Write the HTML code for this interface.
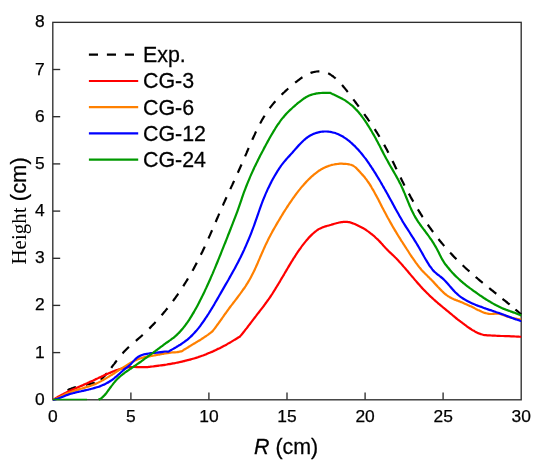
<!DOCTYPE html>
<html lang="en"><head><meta charset="utf-8"><title>Height vs R</title>
<style>html,body{margin:0;padding:0;background:#fff}svg{display:block}</style></head>
<body>
<svg width="550" height="467" viewBox="0 0 550 467">
<rect width="550" height="467" fill="#fff"/>
<g stroke="#2e2e2e" stroke-width="1.35" fill="none">
<rect x="52.80" y="22.35" width="468.40" height="377.45"/>
<path d="M130.9,399.8v-7.4"/>
<path d="M208.9,399.8v-7.4"/>
<path d="M287.0,399.8v-7.4"/>
<path d="M365.1,399.8v-7.4"/>
<path d="M443.1,399.8v-7.4"/>
<path d="M52.8,352.6h7.4"/>
<path d="M52.8,305.4h7.4"/>
<path d="M52.8,258.3h7.4"/>
<path d="M52.8,211.1h7.4"/>
<path d="M52.8,163.9h7.4"/>
<path d="M52.8,116.7h7.4"/>
<path d="M52.8,69.5h7.4"/>
</g>
<g fill="none" stroke-width="2.2" stroke-linejoin="round">
<path d="M52.9,399.8C53.2,399.5 54.2,398.7 54.9,398.2C55.5,397.7 56.2,397.2 56.9,396.8C57.5,396.3 58.2,395.8 58.9,395.4C59.5,394.9 60.2,394.5 60.9,394.0C61.5,393.6 62.2,393.2 62.9,392.8C63.5,392.4 64.2,392.0 64.8,391.7C65.5,391.3 66.2,390.9 66.8,390.6C67.5,390.3 68.2,389.9 68.8,389.6C69.5,389.3 70.2,389.0 70.8,388.8C71.5,388.5 72.2,388.2 72.8,388.0C73.5,387.7 74.2,387.5 74.8,387.3C75.5,387.1 76.2,386.9 76.8,386.7C77.5,386.5 78.2,386.3 78.8,386.1C79.5,386.0 80.2,385.8 80.8,385.7C81.5,385.5 82.2,385.4 82.8,385.2C83.5,385.1 84.2,385.0 84.8,384.8C85.5,384.7 86.2,384.6 86.8,384.4C87.5,384.3 88.2,384.2 88.8,384.0C89.5,383.9 90.2,383.8 90.8,383.6C91.5,383.5 92.2,383.3 92.8,383.2C93.5,383.0 94.2,382.9 94.8,382.7C95.5,382.5 96.2,382.3 96.8,382.1C97.5,381.9 97.9,382.0 98.5,381.6C99.1,381.2 99.8,380.6 100.5,380.0C101.2,379.4 101.8,378.8 102.5,378.1C103.2,377.5 103.8,376.8 104.5,376.0C105.2,375.3 105.8,374.5 106.5,373.7C107.2,373.0 107.8,372.1 108.5,371.3C109.2,370.5 109.8,369.6 110.5,368.8C111.2,367.9 111.8,367.1 112.5,366.2C113.2,365.3 113.8,364.4 114.5,363.6C115.2,362.7 115.8,361.8 116.5,360.9C117.2,360.1 117.8,359.2 118.5,358.4C119.2,357.5 119.8,356.7 120.5,355.9C121.2,355.1 121.8,354.3 122.5,353.5C123.2,352.8 123.8,352.1 124.5,351.3C125.2,350.6 125.8,350.0 126.5,349.3C127.2,348.6 127.8,348.0 128.5,347.3C129.2,346.7 129.8,346.1 130.5,345.5C131.2,344.9 131.8,344.3 132.5,343.7C133.2,343.1 133.8,342.6 134.5,342.0C135.2,341.4 135.8,340.9 136.5,340.3C137.2,339.7 137.8,339.2 138.5,338.6C139.2,338.0 139.8,337.4 140.5,336.9C141.2,336.3 141.8,335.7 142.5,335.1C143.2,334.5 143.8,333.9 144.5,333.3C145.2,332.6 145.8,332.0 146.5,331.4C147.2,330.7 147.8,330.1 148.5,329.4C149.2,328.7 149.8,328.1 150.5,327.4C151.2,326.7 151.8,326.0 152.5,325.3C153.2,324.6 153.8,323.9 154.5,323.2C155.2,322.5 155.8,321.7 156.5,321.0C157.2,320.3 157.8,319.5 158.5,318.8C159.2,318.1 159.8,317.3 160.5,316.5C161.2,315.8 161.8,315.0 162.5,314.2C163.2,313.4 163.8,312.6 164.5,311.8C165.2,311.0 165.8,310.2 166.5,309.4C167.2,308.6 167.8,307.8 168.5,306.9C169.2,306.1 169.8,305.2 170.5,304.3C171.2,303.5 171.8,302.6 172.5,301.7C173.2,300.8 173.8,299.9 174.5,299.0C175.2,298.1 175.8,297.2 176.5,296.2C177.2,295.3 177.8,294.3 178.5,293.4C179.2,292.4 179.8,291.4 180.5,290.4C181.2,289.4 181.8,288.4 182.5,287.4C183.2,286.3 183.8,285.3 184.5,284.2C185.2,283.2 185.8,282.1 186.5,281.0C187.2,279.9 187.8,278.8 188.5,277.7C189.2,276.6 189.8,275.4 190.5,274.3C191.2,273.1 191.8,271.9 192.5,270.7C193.2,269.6 193.8,268.3 194.5,267.1C195.2,265.9 195.8,264.6 196.5,263.4C197.2,262.1 197.8,260.8 198.5,259.5C199.2,258.2 199.8,256.9 200.5,255.5C201.2,254.2 201.8,252.8 202.5,251.4C203.2,250.1 203.8,248.6 204.5,247.2C205.2,245.8 205.8,244.3 206.5,242.9C207.2,241.4 207.8,239.9 208.5,238.4C209.2,236.9 209.8,235.4 210.5,233.9C211.2,232.4 211.8,230.8 212.5,229.3C213.2,227.8 213.8,226.2 214.5,224.7C215.2,223.1 215.8,221.6 216.5,220.0C217.2,218.5 217.8,216.9 218.5,215.4C219.2,213.8 219.8,212.3 220.5,210.8C221.2,209.2 221.8,207.7 222.5,206.2C223.2,204.7 223.8,203.2 224.5,201.8C225.2,200.3 225.8,198.8 226.5,197.3C227.2,195.9 227.8,194.4 228.5,193.0C229.2,191.5 229.8,190.1 230.5,188.7C231.2,187.2 231.8,185.8 232.5,184.4C233.2,182.9 233.8,181.5 234.5,180.0C235.2,178.6 235.8,177.1 236.5,175.7C237.2,174.2 237.8,172.8 238.5,171.3C239.2,169.8 239.8,168.3 240.5,166.8C241.2,165.4 241.8,163.8 242.5,162.3C243.2,160.8 243.8,159.3 244.5,157.7C245.2,156.2 245.8,154.6 246.5,153.1C247.2,151.5 247.8,150.0 248.5,148.4C249.2,146.9 249.8,145.3 250.5,143.8C251.2,142.3 251.8,140.8 252.5,139.3C253.2,137.8 253.8,136.3 254.5,134.9C255.2,133.4 255.8,132.0 256.5,130.6C257.2,129.2 257.8,127.9 258.5,126.6C259.2,125.3 259.8,124.0 260.5,122.8C261.2,121.5 261.8,120.3 262.5,119.2C263.2,118.0 263.8,116.9 264.5,115.9C265.2,114.8 265.8,113.8 266.5,112.8C267.2,111.8 267.8,110.8 268.5,109.9C269.2,108.9 269.8,108.0 270.5,107.1C271.2,106.3 271.8,105.4 272.5,104.6C273.2,103.8 273.8,103.0 274.5,102.2C275.2,101.4 275.8,100.7 276.5,100.0C277.2,99.2 277.8,98.5 278.5,97.8C279.2,97.1 279.8,96.5 280.5,95.8C281.2,95.1 281.8,94.5 282.5,93.8C283.2,93.2 283.8,92.6 284.5,92.0C285.2,91.3 285.8,90.7 286.5,90.1C287.2,89.5 287.8,88.9 288.5,88.3C289.2,87.7 289.8,87.2 290.5,86.6C291.2,86.0 291.8,85.4 292.5,84.9C293.2,84.3 293.8,83.7 294.5,83.2C295.2,82.6 295.8,82.1 296.5,81.6C297.2,81.1 297.8,80.6 298.5,80.1C299.2,79.6 299.8,79.1 300.5,78.6C301.2,78.2 301.8,77.7 302.5,77.3C303.2,76.9 303.8,76.4 304.5,76.1C305.2,75.7 305.8,75.3 306.5,74.9C307.2,74.6 307.8,74.3 308.5,73.9C309.2,73.6 309.8,73.4 310.5,73.1C311.2,72.8 311.8,72.6 312.5,72.4C313.2,72.2 313.8,72.0 314.5,71.9C315.2,71.7 315.8,71.6 316.5,71.5C317.2,71.4 317.8,71.3 318.5,71.3C319.2,71.3 319.8,71.3 320.5,71.3C321.2,71.4 321.8,71.4 322.5,71.5C323.2,71.6 323.8,71.8 324.5,72.0C325.2,72.1 325.8,72.4 326.5,72.6C327.2,72.9 327.8,73.2 328.5,73.5C329.2,73.8 329.8,74.2 330.5,74.6C331.2,75.0 331.8,75.5 332.5,76.0C333.2,76.5 333.8,77.0 334.5,77.5C335.2,78.1 335.8,78.7 336.5,79.3C337.2,79.9 337.8,80.6 338.5,81.2C339.2,81.9 339.8,82.6 340.5,83.3C341.2,84.0 341.8,84.8 342.5,85.5C343.2,86.3 343.8,87.1 344.5,87.9C345.2,88.7 345.8,89.5 346.5,90.3C347.2,91.2 347.8,92.0 348.5,92.9C349.2,93.8 349.8,94.6 350.5,95.5C351.2,96.4 351.8,97.3 352.5,98.2C353.2,99.1 353.8,100.0 354.5,100.9C355.2,101.8 355.8,102.7 356.5,103.6C357.2,104.5 357.8,105.4 358.5,106.3C359.2,107.2 359.8,108.2 360.5,109.1C361.2,110.0 361.8,110.9 362.5,111.8C363.2,112.7 363.8,113.6 364.5,114.5C365.2,115.4 365.8,116.3 366.5,117.3C367.2,118.2 367.8,119.1 368.5,120.1C369.2,121.0 369.8,122.0 370.5,122.9C371.2,123.9 371.8,124.9 372.5,125.8C373.2,126.8 373.8,127.8 374.5,128.8C375.2,129.8 375.8,130.9 376.5,131.9C377.2,133.0 377.8,134.0 378.5,135.1C379.2,136.2 379.8,137.3 380.5,138.4C381.2,139.5 381.8,140.7 382.5,141.8C383.2,143.0 383.8,144.2 384.5,145.4C385.2,146.6 385.8,147.9 386.5,149.1C387.2,150.4 387.8,151.7 388.5,153.0C389.2,154.3 389.8,155.6 390.5,156.9C391.2,158.2 391.8,159.6 392.5,160.9C393.2,162.3 393.8,163.7 394.5,165.0C395.2,166.4 395.8,167.8 396.5,169.1C397.2,170.5 397.8,171.9 398.5,173.3C399.2,174.6 399.8,176.0 400.5,177.4C401.2,178.7 401.8,180.1 402.5,181.4C403.2,182.7 403.8,184.1 404.5,185.4C405.2,186.7 405.8,188.0 406.5,189.2C407.2,190.5 407.8,191.8 408.5,193.0C409.2,194.2 409.8,195.5 410.5,196.7C411.2,197.9 411.8,199.1 412.5,200.2C413.2,201.4 413.8,202.6 414.5,203.7C415.2,204.9 415.8,206.0 416.5,207.1C417.2,208.2 417.8,209.3 418.5,210.4C419.2,211.5 419.8,212.6 420.5,213.6C421.2,214.7 421.8,215.7 422.5,216.8C423.2,217.8 423.8,218.8 424.5,219.8C425.2,220.8 425.8,221.8 426.5,222.8C427.2,223.8 427.8,224.7 428.5,225.7C429.2,226.6 429.8,227.6 430.5,228.5C431.2,229.4 431.8,230.3 432.5,231.2C433.2,232.1 433.8,233.0 434.5,233.9C435.2,234.8 435.8,235.6 436.5,236.5C437.2,237.4 437.8,238.2 438.5,239.0C439.2,239.9 439.8,240.7 440.5,241.5C441.2,242.3 441.8,243.1 442.5,243.9C443.2,244.7 443.8,245.5 444.5,246.3C445.2,247.1 445.8,247.8 446.5,248.6C447.2,249.3 447.8,250.1 448.5,250.8C449.2,251.6 449.8,252.3 450.5,253.0C451.2,253.7 451.8,254.4 452.5,255.1C453.2,255.8 453.8,256.5 454.5,257.2C455.2,257.9 455.8,258.6 456.5,259.3C457.2,259.9 457.8,260.6 458.5,261.3C459.2,261.9 459.8,262.6 460.5,263.2C461.2,263.9 461.8,264.5 462.5,265.1C463.2,265.8 463.8,266.4 464.5,267.0C465.2,267.6 465.8,268.3 466.5,268.9C467.2,269.5 467.8,270.1 468.5,270.7C469.2,271.3 469.8,271.9 470.5,272.5C471.2,273.1 471.8,273.6 472.5,274.2C473.2,274.8 473.8,275.4 474.5,276.0C475.2,276.5 475.8,277.1 476.5,277.7C477.2,278.2 477.8,278.8 478.5,279.3C479.2,279.9 479.8,280.5 480.5,281.0C481.2,281.6 481.8,282.1 482.5,282.7C483.2,283.2 483.8,283.8 484.5,284.3C485.2,284.8 485.8,285.4 486.5,285.9C487.2,286.5 487.8,287.0 488.5,287.5C489.2,288.1 489.8,288.6 490.5,289.1C491.2,289.7 491.8,290.2 492.5,290.7C493.2,291.3 493.8,291.8 494.5,292.3C495.2,292.9 495.8,293.4 496.5,293.9C497.2,294.5 497.8,295.0 498.5,295.5C499.2,296.1 499.8,296.6 500.5,297.1C501.2,297.7 501.8,298.2 502.5,298.8C503.2,299.3 503.8,299.8 504.5,300.4C505.2,300.9 505.8,301.5 506.5,302.0C507.2,302.5 507.8,303.1 508.5,303.6C509.2,304.2 509.8,304.7 510.5,305.3C511.2,305.9 511.8,306.4 512.5,307.0C513.2,307.5 513.8,308.1 514.5,308.7C515.2,309.2 515.8,309.8 516.5,310.4C517.2,310.9 517.8,311.5 518.5,312.1C519.2,312.7 520.0,313.5 520.5,313.9C521.0,314.3 521.1,314.4 521.2,314.5" stroke="#000" stroke-dasharray="0.0 17.5 9.1 10.2 9.1 6.8 9.1 6.8 9.1 9.2 9.1 9.2 9.1 9.1 9.1 9.1 9.1 9.0 9.1 9.0 9.1 8.9 9.1 8.9 9.1 8.9 9.1 8.9 9.1 8.9 9.1 8.9 9.1 8.9 9.1 8.9 9.1 8.9 9.1 8.9 9.1 9.0 9.1 9.0 9.1 9.0 9.1 9.1 9.1 9.1 9.1 9.1 9.1 9.2 9.1 9.2 9.1 9.2 9.1 9.2 9.1 9.2 9.1 9.2 9.1 9.1 9.1 9.1 9.1 9.0 9.1 8.9 9.1 8.8 9.1 8.7 9.1 8.5 9.1 8.3 9.1 8.0 9.1 7.7 9.1 7.4 9.1 20.0"/>
<path d="M52.9,399.9C53.2,399.7 54.2,399.0 54.9,398.6C55.5,398.2 56.2,397.8 56.9,397.4C57.5,397.0 58.2,396.7 58.9,396.3C59.5,395.9 60.2,395.6 60.9,395.2C61.5,394.9 62.2,394.5 62.9,394.2C63.5,393.9 64.2,393.5 64.8,393.2C65.5,392.9 66.2,392.6 66.8,392.2C67.5,391.9 68.2,391.6 68.8,391.3C69.5,391.0 70.2,390.7 70.8,390.4C71.5,390.1 72.2,389.8 72.8,389.5C73.5,389.2 74.2,388.9 74.8,388.7C75.5,388.4 76.2,388.1 76.8,387.8C77.5,387.5 78.2,387.2 78.8,386.9C79.5,386.7 80.2,386.4 80.8,386.1C81.5,385.8 82.2,385.5 82.8,385.2C83.5,384.9 84.2,384.6 84.8,384.3C85.5,384.0 86.2,383.7 86.8,383.4C87.5,383.1 88.2,382.8 88.8,382.5C89.5,382.2 90.2,381.9 90.8,381.6C91.5,381.3 92.2,381.0 92.8,380.7C93.5,380.3 94.2,380.0 94.8,379.7C95.5,379.4 96.2,379.1 96.8,378.8C97.5,378.5 98.2,378.1 98.8,377.8C99.5,377.5 100.2,377.2 100.8,376.9C101.5,376.6 102.2,376.3 102.8,376.0C103.5,375.6 104.2,375.3 104.8,375.0C105.5,374.7 106.2,374.4 106.8,374.1C107.5,373.9 108.2,373.6 108.8,373.3C109.5,373.0 110.2,372.7 110.8,372.4C111.5,372.2 112.2,371.9 112.8,371.6C113.5,371.4 114.2,371.1 114.8,370.8C115.5,370.6 116.2,370.3 116.8,370.1C117.5,369.9 118.2,369.7 118.8,369.4C119.5,369.2 120.2,369.0 120.8,368.8C121.5,368.6 122.2,368.5 122.8,368.3C123.5,368.1 124.2,368.0 124.8,367.8C125.5,367.7 126.2,367.6 126.8,367.5C127.5,367.4 128.2,367.3 128.8,367.2C129.5,367.2 130.2,367.1 130.8,367.1C131.5,367.1 132.2,367.0 132.8,367.0C133.5,367.0 134.2,367.0 134.8,367.0C135.5,367.1 136.2,367.1 136.8,367.1C137.5,367.1 138.2,367.1 138.8,367.2C139.5,367.2 140.2,367.2 140.8,367.2C141.5,367.2 142.2,367.2 142.8,367.2C143.5,367.2 144.2,367.2 144.8,367.2C145.5,367.2 146.2,367.1 146.8,367.1C147.5,367.1 148.2,367.0 148.8,366.9C149.5,366.9 150.2,366.8 150.8,366.7C151.5,366.6 152.2,366.5 152.8,366.5C153.5,366.4 154.2,366.3 154.8,366.2C155.5,366.1 156.2,366.0 156.8,365.9C157.5,365.8 158.2,365.7 158.8,365.6C159.5,365.5 160.2,365.5 160.8,365.4C161.5,365.3 162.2,365.2 162.8,365.1C163.5,365.0 164.2,364.9 164.8,364.8C165.5,364.7 166.2,364.6 166.8,364.5C167.5,364.3 168.2,364.2 168.8,364.1C169.5,364.0 170.2,363.9 170.8,363.8C171.5,363.7 172.2,363.6 172.8,363.4C173.5,363.3 174.2,363.2 174.8,363.1C175.5,362.9 176.2,362.8 176.8,362.7C177.5,362.5 178.2,362.4 178.8,362.3C179.5,362.1 180.2,362.0 180.8,361.8C181.5,361.7 182.2,361.6 182.8,361.4C183.5,361.2 184.2,361.1 184.8,360.9C185.5,360.8 186.2,360.6 186.8,360.4C187.5,360.3 188.2,360.1 188.8,359.9C189.5,359.7 190.2,359.6 190.8,359.4C191.5,359.2 192.2,359.0 192.8,358.8C193.5,358.6 194.2,358.4 194.8,358.2C195.5,358.0 196.2,357.8 196.8,357.6C197.5,357.4 198.2,357.1 198.8,356.9C199.5,356.7 200.2,356.5 200.8,356.2C201.5,356.0 202.2,355.7 202.8,355.5C203.5,355.2 204.2,355.0 204.8,354.7C205.5,354.5 206.2,354.2 206.8,353.9C207.5,353.7 208.2,353.4 208.8,353.1C209.5,352.8 210.2,352.6 210.8,352.3C211.5,352.0 212.2,351.7 212.8,351.4C213.5,351.1 214.2,350.8 214.8,350.5C215.5,350.2 216.2,349.9 216.8,349.5C217.5,349.2 218.2,348.9 218.8,348.6C219.5,348.2 220.2,347.9 220.8,347.6C221.5,347.2 222.2,346.9 222.8,346.5C223.5,346.2 224.2,345.8 224.8,345.5C225.5,345.1 226.2,344.7 226.8,344.4C227.5,344.0 228.2,343.6 228.8,343.2C229.5,342.9 230.2,342.5 230.8,342.1C231.5,341.7 232.2,341.3 232.8,340.9C233.5,340.5 234.2,340.1 234.8,339.7C235.5,339.3 236.2,338.9 236.8,338.5C237.5,338.1 238.3,337.6 238.8,337.2C239.4,336.9 239.6,336.9 240.1,336.4C240.6,335.9 241.4,334.8 242.1,334.0C242.8,333.2 243.4,332.3 244.1,331.5C244.8,330.6 245.4,329.8 246.1,328.9C246.8,328.1 247.4,327.2 248.1,326.3C248.8,325.5 249.4,324.6 250.1,323.7C250.8,322.8 251.4,322.0 252.1,321.1C252.8,320.2 253.4,319.3 254.1,318.5C254.8,317.6 255.4,316.7 256.1,315.9C256.8,315.0 257.4,314.1 258.1,313.3C258.8,312.4 259.4,311.6 260.1,310.7C260.8,309.8 261.4,309.0 262.1,308.1C262.8,307.2 263.4,306.4 264.1,305.5C264.8,304.6 265.4,303.7 266.1,302.8C266.8,301.9 267.4,300.9 268.1,300.0C268.8,299.0 269.4,298.1 270.1,297.1C270.8,296.1 271.4,295.1 272.1,294.1C272.8,293.0 273.4,292.0 274.1,290.9C274.8,289.9 275.4,288.8 276.1,287.7C276.8,286.6 277.4,285.5 278.1,284.4C278.8,283.3 279.4,282.2 280.1,281.1C280.8,279.9 281.4,278.8 282.1,277.7C282.8,276.6 283.4,275.4 284.1,274.3C284.8,273.1 285.4,272.0 286.1,270.9C286.8,269.7 287.4,268.6 288.1,267.5C288.8,266.4 289.4,265.3 290.1,264.1C290.8,263.0 291.4,261.9 292.1,260.9C292.8,259.8 293.4,258.7 294.1,257.7C294.8,256.6 295.4,255.6 296.1,254.5C296.8,253.5 297.4,252.5 298.1,251.5C298.8,250.6 299.4,249.6 300.1,248.7C300.8,247.7 301.4,246.8 302.1,245.9C302.8,245.0 303.4,244.2 304.1,243.3C304.8,242.5 305.4,241.7 306.1,240.9C306.8,240.1 307.4,239.3 308.1,238.6C308.8,237.8 309.4,237.1 310.1,236.4C310.8,235.7 311.4,235.1 312.1,234.4C312.8,233.8 313.4,233.2 314.1,232.6C314.8,232.1 315.6,231.4 316.1,231.0C316.6,230.6 316.8,230.4 317.3,230.1C317.8,229.8 318.6,229.3 319.3,228.9C320.0,228.5 320.6,228.2 321.3,227.9C322.0,227.6 322.6,227.4 323.3,227.1C324.0,226.9 324.6,226.6 325.3,226.4C326.0,226.2 326.6,226.0 327.3,225.8C328.0,225.6 328.6,225.4 329.3,225.3C330.0,225.1 330.6,224.9 331.3,224.7C332.0,224.5 332.6,224.3 333.3,224.1C334.0,223.9 334.6,223.7 335.3,223.5C336.0,223.3 336.6,223.2 337.3,223.0C338.0,222.8 338.6,222.7 339.3,222.5C340.0,222.4 340.6,222.3 341.3,222.2C342.0,222.1 342.6,222.0 343.3,221.9C344.0,221.9 344.6,221.8 345.3,221.8C346.0,221.8 346.6,221.8 347.3,221.9C348.0,222.0 348.6,222.1 349.3,222.2C350.0,222.3 350.6,222.5 351.3,222.7C352.0,223.0 352.6,223.2 353.3,223.5C354.0,223.7 354.6,224.0 355.3,224.3C356.0,224.6 356.6,224.9 357.3,225.2C358.0,225.6 358.6,225.9 359.3,226.2C360.0,226.5 360.6,226.9 361.3,227.2C362.0,227.6 362.6,227.9 363.3,228.3C364.0,228.7 364.6,229.1 365.3,229.5C366.0,230.0 366.6,230.4 367.3,230.9C368.0,231.3 368.6,231.8 369.3,232.3C370.0,232.8 370.6,233.3 371.3,233.8C372.0,234.4 372.6,234.9 373.3,235.5C374.0,236.1 374.6,236.6 375.3,237.3C376.0,237.9 376.6,238.5 377.3,239.1C378.0,239.8 378.6,240.5 379.3,241.1C380.0,241.8 380.6,242.5 381.3,243.3C382.0,244.0 382.6,244.7 383.3,245.5C384.0,246.2 384.6,247.0 385.3,247.7C386.0,248.4 386.6,249.2 387.3,249.8C388.0,250.5 388.6,251.2 389.3,251.8C390.0,252.5 390.6,253.1 391.3,253.7C392.0,254.3 392.6,254.9 393.3,255.5C394.0,256.2 394.6,256.8 395.3,257.5C396.0,258.1 396.6,258.8 397.3,259.5C398.0,260.2 398.6,260.9 399.3,261.7C400.0,262.4 400.6,263.1 401.3,263.9C402.0,264.7 402.6,265.4 403.3,266.2C404.0,266.9 404.6,267.7 405.3,268.5C406.0,269.3 406.6,270.1 407.3,270.8C408.0,271.6 408.6,272.4 409.3,273.2C410.0,274.0 410.6,274.8 411.3,275.6C412.0,276.4 412.6,277.1 413.3,277.9C414.0,278.7 414.6,279.5 415.3,280.3C416.0,281.0 416.6,281.8 417.3,282.6C418.0,283.3 418.6,284.1 419.3,284.8C420.0,285.6 420.6,286.3 421.3,287.1C422.0,287.8 422.6,288.5 423.3,289.2C424.0,289.9 424.6,290.6 425.3,291.3C426.0,292.0 426.6,292.7 427.3,293.3C428.0,294.0 428.6,294.6 429.3,295.3C430.0,295.9 430.6,296.5 431.3,297.2C432.0,297.8 432.6,298.4 433.3,299.0C434.0,299.6 434.6,300.2 435.3,300.8C436.0,301.4 436.6,301.9 437.3,302.5C438.0,303.1 438.6,303.7 439.3,304.2C440.0,304.8 440.6,305.3 441.3,305.9C442.0,306.5 442.6,307.0 443.3,307.6C444.0,308.1 444.6,308.7 445.3,309.2C446.0,309.8 446.6,310.3 447.3,310.9C448.0,311.4 448.6,312.0 449.3,312.5C450.0,313.1 450.6,313.6 451.3,314.2C452.0,314.7 452.6,315.3 453.3,315.8C454.0,316.4 454.6,316.9 455.3,317.5C456.0,318.0 456.6,318.5 457.3,319.1C458.0,319.6 458.6,320.1 459.3,320.7C460.0,321.2 460.6,321.7 461.3,322.2C462.0,322.7 462.6,323.2 463.3,323.7C464.0,324.2 464.6,324.7 465.3,325.2C466.0,325.7 466.6,326.2 467.3,326.7C468.0,327.1 468.6,327.6 469.3,328.0C470.0,328.5 470.6,328.9 471.3,329.3C472.0,329.8 472.6,330.2 473.3,330.6C474.0,330.9 474.6,331.3 475.3,331.7C476.0,332.0 476.6,332.4 477.3,332.7C478.0,333.0 478.6,333.3 479.3,333.5C480.0,333.8 480.6,334.0 481.3,334.3C482.0,334.5 482.7,334.6 483.3,334.8C483.9,334.9 484.5,335.0 485.1,335.1C485.7,335.2 486.4,335.2 487.1,335.3C487.8,335.3 488.4,335.3 489.1,335.4C489.8,335.4 490.4,335.5 491.1,335.5C491.8,335.5 492.4,335.6 493.1,335.6C493.8,335.7 494.4,335.7 495.1,335.7C495.8,335.7 496.4,335.8 497.1,335.8C497.8,335.8 498.4,335.9 499.1,335.9C499.8,335.9 500.4,335.9 501.1,336.0C501.8,336.0 502.4,336.0 503.1,336.0C503.8,336.1 504.4,336.1 505.1,336.1C505.8,336.1 506.4,336.2 507.1,336.2C507.8,336.2 508.4,336.2 509.1,336.2C509.8,336.3 510.4,336.3 511.1,336.3C511.8,336.3 512.4,336.4 513.1,336.4C513.8,336.4 514.4,336.5 515.1,336.5C515.8,336.5 516.4,336.5 517.1,336.6C517.8,336.6 518.4,336.6 519.1,336.7C519.8,336.7 520.9,336.8 521.2,336.8" stroke="#ff0000"/>
<path d="M52.9,399.9C53.2,399.8 54.2,399.4 54.9,399.2C55.5,398.9 56.2,398.6 56.9,398.3C57.5,398.0 58.2,397.7 58.9,397.4C59.5,397.1 60.2,396.8 60.9,396.4C61.5,396.1 62.2,395.8 62.9,395.5C63.5,395.1 64.2,394.8 64.8,394.5C65.5,394.2 66.2,393.9 66.8,393.6C67.5,393.3 68.2,393.0 68.8,392.7C69.5,392.5 70.2,392.2 70.8,392.0C71.5,391.7 72.2,391.5 72.8,391.3C73.5,391.0 74.2,390.8 74.8,390.6C75.5,390.4 76.2,390.2 76.8,390.0C77.5,389.8 78.2,389.6 78.8,389.4C79.5,389.2 80.2,389.0 80.8,388.8C81.5,388.6 82.2,388.4 82.8,388.2C83.5,388.0 84.2,387.8 84.8,387.6C85.5,387.4 86.2,387.2 86.8,387.0C87.5,386.8 88.2,386.6 88.8,386.4C89.5,386.2 90.2,385.9 90.8,385.7C91.5,385.5 92.2,385.2 92.8,385.0C93.5,384.7 94.2,384.4 94.8,384.2C95.5,383.9 96.2,383.6 96.8,383.3C97.5,383.0 98.2,382.6 98.8,382.3C99.5,382.0 100.2,381.6 100.8,381.3C101.5,380.9 102.2,380.6 102.8,380.2C103.5,379.8 104.2,379.5 104.8,379.1C105.5,378.7 106.2,378.3 106.8,377.9C107.5,377.5 108.2,377.1 108.8,376.7C109.5,376.3 110.2,375.8 110.8,375.4C111.5,375.0 112.2,374.6 112.8,374.1C113.5,373.7 114.2,373.3 114.8,372.8C115.5,372.4 116.2,372.0 116.8,371.5C117.5,371.1 118.2,370.7 118.8,370.2C119.5,369.8 120.2,369.4 120.8,368.9C121.5,368.5 122.2,368.1 122.8,367.6C123.5,367.2 124.2,366.8 124.8,366.4C125.5,365.9 126.2,365.5 126.8,365.1C127.5,364.7 128.2,364.3 128.8,363.9C129.5,363.5 130.2,363.1 130.8,362.7C131.5,362.3 132.2,362.0 132.8,361.6C133.5,361.3 134.2,360.9 134.8,360.6C135.5,360.3 136.2,360.0 136.8,359.7C137.5,359.4 138.2,359.1 138.8,358.9C139.5,358.6 140.2,358.4 140.8,358.2C141.5,358.0 142.2,357.8 142.8,357.6C143.5,357.4 144.2,357.3 144.8,357.1C145.5,357.0 146.2,356.8 146.8,356.7C147.5,356.6 148.2,356.5 148.8,356.4C149.5,356.2 150.2,356.1 150.8,356.0C151.5,355.9 152.2,355.8 152.8,355.7C153.5,355.6 154.2,355.5 154.8,355.3C155.5,355.2 156.2,355.1 156.8,355.0C157.5,354.9 158.2,354.7 158.8,354.6C159.5,354.5 160.2,354.3 160.8,354.2C161.5,354.1 162.2,353.9 162.8,353.8C163.5,353.7 164.2,353.5 164.8,353.4C165.5,353.3 166.2,353.2 166.8,353.1C167.5,353.0 168.2,352.9 168.8,352.8C169.5,352.7 170.2,352.6 170.8,352.6C171.5,352.5 172.2,352.5 172.8,352.4C173.5,352.4 174.2,352.3 174.8,352.3C175.5,352.2 176.2,352.1 176.8,352.1C177.5,352.0 178.2,351.9 178.8,351.8C179.5,351.7 180.4,351.5 180.8,351.4C181.3,351.3 181.3,351.5 181.8,351.2C182.3,351.0 183.1,350.3 183.8,349.9C184.5,349.5 185.1,349.1 185.8,348.7C186.5,348.3 187.1,347.9 187.8,347.5C188.5,347.0 189.1,346.6 189.8,346.2C190.5,345.8 191.1,345.4 191.8,345.0C192.5,344.6 193.1,344.2 193.8,343.8C194.5,343.4 195.1,343.0 195.8,342.6C196.5,342.2 197.1,341.8 197.8,341.4C198.5,341.0 199.1,340.6 199.8,340.2C200.5,339.8 201.1,339.3 201.8,338.9C202.5,338.5 203.1,338.0 203.8,337.6C204.5,337.2 205.1,336.7 205.8,336.3C206.5,335.8 207.1,335.3 207.8,334.9C208.5,334.4 209.1,333.9 209.8,333.4C210.5,332.9 211.1,332.5 211.8,331.9C212.5,331.3 213.1,330.4 213.8,329.6C214.5,328.7 215.1,327.9 215.8,327.0C216.5,326.1 217.1,325.2 217.8,324.3C218.5,323.4 219.1,322.5 219.8,321.5C220.5,320.6 221.1,319.6 221.8,318.7C222.5,317.7 223.1,316.8 223.8,315.8C224.5,314.9 225.1,313.9 225.8,313.0C226.5,312.0 227.1,311.1 227.8,310.2C228.5,309.3 229.1,308.4 229.8,307.5C230.5,306.6 231.1,305.7 231.8,304.9C232.5,304.0 233.1,303.1 233.8,302.2C234.5,301.4 235.1,300.5 235.8,299.6C236.5,298.8 237.1,297.9 237.8,297.0C238.5,296.1 239.1,295.3 239.8,294.4C240.5,293.5 241.1,292.5 241.8,291.6C242.5,290.7 243.1,289.7 243.8,288.8C244.5,287.8 245.1,286.8 245.8,285.8C246.5,284.7 247.1,283.7 247.8,282.6C248.5,281.5 249.1,280.4 249.8,279.2C250.5,278.0 251.1,276.8 251.8,275.5C252.5,274.3 253.1,272.9 253.8,271.6C254.5,270.2 255.1,268.7 255.8,267.3C256.5,265.8 257.1,264.3 257.8,262.8C258.5,261.2 259.1,259.7 259.8,258.1C260.5,256.6 261.1,255.0 261.8,253.5C262.5,252.0 263.1,250.4 263.8,248.9C264.5,247.5 265.1,246.0 265.8,244.6C266.5,243.2 267.1,241.8 267.8,240.4C268.5,239.0 269.1,237.7 269.8,236.4C270.5,235.1 271.1,233.9 271.8,232.7C272.5,231.4 273.1,230.3 273.8,229.1C274.5,227.9 275.1,226.7 275.8,225.6C276.5,224.4 277.1,223.3 277.8,222.1C278.5,221.0 279.1,219.9 279.8,218.8C280.5,217.7 281.1,216.6 281.8,215.5C282.5,214.4 283.1,213.3 283.8,212.2C284.5,211.2 285.1,210.1 285.8,209.1C286.5,208.0 287.1,207.0 287.8,206.0C288.5,205.0 289.1,204.0 289.8,203.0C290.5,202.0 291.1,201.1 291.8,200.1C292.5,199.1 293.1,198.2 293.8,197.3C294.5,196.3 295.1,195.4 295.8,194.5C296.5,193.6 297.1,192.8 297.8,191.9C298.5,191.0 299.1,190.2 299.8,189.4C300.5,188.5 301.1,187.7 301.8,186.9C302.5,186.1 303.1,185.4 303.8,184.6C304.5,183.9 305.1,183.1 305.8,182.4C306.5,181.7 307.1,181.0 307.8,180.3C308.5,179.6 309.1,178.9 309.8,178.3C310.5,177.7 311.1,177.0 311.8,176.4C312.5,175.8 313.1,175.3 313.8,174.7C314.5,174.1 315.1,173.6 315.8,173.1C316.5,172.6 317.1,172.1 317.8,171.6C318.5,171.1 319.1,170.7 319.8,170.3C320.5,169.8 321.1,169.4 321.8,169.1C322.5,168.7 323.1,168.3 323.8,168.0C324.5,167.7 325.1,167.3 325.8,167.0C326.5,166.7 327.1,166.5 327.8,166.2C328.5,166.0 329.1,165.7 329.8,165.5C330.5,165.3 331.1,165.1 331.8,164.9C332.5,164.8 333.1,164.6 333.8,164.5C334.5,164.3 335.1,164.2 335.8,164.1C336.5,164.0 337.1,163.9 337.8,163.9C338.5,163.8 339.1,163.8 339.8,163.7C340.5,163.7 341.1,163.7 341.8,163.7C342.5,163.7 343.1,163.7 343.8,163.8C344.5,163.8 345.1,163.8 345.8,163.9C346.5,164.0 347.1,164.0 347.8,164.1C348.5,164.2 349.1,164.3 349.8,164.5C350.5,164.6 351.1,164.8 351.8,165.1C352.5,165.3 353.1,165.6 353.8,166.1C354.5,166.5 355.1,167.0 355.8,167.6C356.5,168.2 357.1,168.9 357.8,169.6C358.5,170.3 359.1,171.1 359.8,171.8C360.5,172.6 361.1,173.3 361.8,174.1C362.5,174.8 363.1,175.5 363.8,176.3C364.5,177.1 365.1,177.9 365.8,178.8C366.5,179.6 367.1,180.5 367.8,181.5C368.5,182.4 369.1,183.4 369.8,184.5C370.5,185.5 371.1,186.6 371.8,187.8C372.5,188.9 373.1,190.0 373.8,191.2C374.5,192.4 375.1,193.6 375.8,194.9C376.5,196.1 377.1,197.4 377.8,198.6C378.5,199.9 379.1,201.2 379.8,202.5C380.5,203.8 381.1,205.1 381.8,206.4C382.5,207.7 383.1,209.0 383.8,210.2C384.5,211.5 385.1,212.8 385.8,214.0C386.5,215.3 387.1,216.5 387.8,217.8C388.5,219.0 389.1,220.2 389.8,221.4C390.5,222.6 391.1,223.7 391.8,224.9C392.5,226.1 393.1,227.2 393.8,228.3C394.5,229.5 395.1,230.6 395.8,231.7C396.5,232.8 397.1,233.9 397.8,235.0C398.5,236.1 399.1,237.1 399.8,238.2C400.5,239.3 401.1,240.3 401.8,241.4C402.5,242.4 403.1,243.5 403.8,244.5C404.5,245.6 405.1,246.6 405.8,247.6C406.5,248.7 407.1,249.7 407.8,250.7C408.5,251.7 409.1,252.8 409.8,253.8C410.5,254.8 411.1,255.8 411.8,256.8C412.5,257.8 413.1,258.8 413.8,259.7C414.5,260.7 415.1,261.6 415.8,262.6C416.5,263.5 417.1,264.4 417.8,265.3C418.5,266.1 419.1,267.0 419.8,267.8C420.5,268.6 421.1,269.4 421.8,270.2C422.5,270.9 423.1,271.6 423.8,272.3C424.5,273.0 425.1,273.7 425.8,274.3C426.5,275.0 427.1,275.6 427.8,276.3C428.5,276.9 429.1,277.6 429.8,278.3C430.5,278.9 431.1,279.6 431.8,280.3C432.5,281.0 433.1,281.7 433.8,282.4C434.5,283.1 435.1,283.9 435.8,284.6C436.5,285.3 437.1,286.0 437.8,286.8C438.5,287.5 439.1,288.2 439.8,288.9C440.5,289.6 441.1,290.2 441.8,290.9C442.5,291.5 443.1,292.2 443.8,292.8C444.5,293.4 445.1,294.0 445.8,294.5C446.5,295.0 447.1,295.5 447.8,296.0C448.5,296.4 449.1,296.8 449.8,297.2C450.5,297.6 451.1,297.9 451.8,298.3C452.5,298.6 453.1,298.9 453.8,299.2C454.5,299.5 455.1,299.7 455.8,300.0C456.5,300.3 457.1,300.5 457.8,300.8C458.5,301.0 459.1,301.3 459.8,301.5C460.5,301.8 461.1,302.1 461.8,302.3C462.5,302.6 463.1,302.9 463.8,303.2C464.5,303.5 465.1,303.8 465.8,304.1C466.5,304.3 467.1,304.6 467.8,305.0C468.5,305.3 469.1,305.6 469.8,305.9C470.5,306.2 471.1,306.5 471.8,306.8C472.5,307.2 473.1,307.5 473.8,307.8C474.5,308.2 475.1,308.5 475.8,308.9C476.5,309.2 477.1,309.5 477.8,309.9C478.5,310.2 479.1,310.5 479.8,310.8C480.5,311.2 481.1,311.5 481.8,311.8C482.5,312.0 483.1,312.3 483.8,312.6C484.5,312.8 485.1,313.0 485.8,313.2C486.5,313.4 487.1,313.6 487.8,313.7C488.5,313.8 489.1,313.9 489.8,314.0C490.5,314.0 491.1,314.0 491.8,314.0C492.5,314.0 493.1,313.8 493.8,313.8C494.5,313.7 495.1,313.6 495.8,313.5C496.5,313.5 497.1,313.5 497.8,313.6C498.5,313.7 499.1,313.8 499.8,313.9C500.5,314.1 501.1,314.3 501.8,314.5C502.5,314.7 503.1,315.0 503.8,315.2C504.5,315.4 505.1,315.7 505.8,315.9C506.5,316.2 507.1,316.4 507.8,316.6C508.5,316.8 509.1,317.0 509.8,317.2C510.5,317.4 511.1,317.6 511.8,317.8C512.5,317.9 513.1,318.1 513.8,318.2C514.5,318.4 515.1,318.5 515.8,318.6C516.5,318.8 517.1,318.9 517.8,319.0C518.5,319.1 519.2,319.3 519.8,319.4C520.4,319.5 521.0,319.6 521.2,319.6" stroke="#ff8000"/>
<path d="M52.9,399.9C53.2,399.8 54.2,399.6 54.9,399.5C55.5,399.3 56.2,399.1 56.9,398.9C57.5,398.7 58.2,398.5 58.9,398.2C59.5,398.0 60.2,397.8 60.9,397.5C61.5,397.2 62.2,397.0 62.9,396.7C63.5,396.4 64.2,396.2 64.8,395.9C65.5,395.7 66.2,395.4 66.8,395.1C67.5,394.9 68.2,394.7 68.8,394.4C69.5,394.2 70.2,394.0 70.8,393.8C71.5,393.6 72.2,393.4 72.8,393.2C73.5,393.0 74.2,392.9 74.8,392.7C75.5,392.5 76.2,392.3 76.8,392.2C77.5,392.0 78.2,391.9 78.8,391.7C79.5,391.6 80.2,391.4 80.8,391.3C81.5,391.1 82.2,391.0 82.8,390.8C83.5,390.7 84.2,390.5 84.8,390.4C85.5,390.3 86.2,390.1 86.8,390.0C87.5,389.8 88.2,389.7 88.8,389.5C89.5,389.3 90.2,389.2 90.8,389.0C91.5,388.9 92.2,388.7 92.8,388.5C93.5,388.3 94.2,388.1 94.8,387.9C95.5,387.7 96.2,387.5 96.8,387.3C97.5,387.1 98.2,386.9 98.8,386.7C99.5,386.4 100.2,386.2 100.8,385.9C101.5,385.7 102.2,385.4 102.8,385.1C103.5,384.8 104.2,384.5 104.8,384.2C105.5,383.8 106.2,383.5 106.8,383.1C107.5,382.8 108.2,382.4 108.8,382.0C109.5,381.6 110.2,381.2 110.8,380.7C111.5,380.3 112.2,379.8 112.8,379.3C113.5,378.8 114.2,378.3 114.8,377.7C115.5,377.2 116.2,376.6 116.8,376.1C117.5,375.5 118.2,374.9 118.8,374.3C119.5,373.7 120.2,373.1 120.8,372.5C121.5,371.9 122.2,371.3 122.8,370.7C123.5,370.2 124.2,369.6 124.8,369.0C125.5,368.5 126.2,368.0 126.8,367.5C127.5,367.0 128.2,366.5 128.8,365.9C129.5,365.4 130.2,364.8 130.8,364.1C131.5,363.4 132.2,362.6 132.8,361.9C133.5,361.1 134.2,360.3 134.8,359.7C135.5,359.0 136.2,358.4 136.8,357.9C137.5,357.3 138.2,356.9 138.8,356.5C139.5,356.1 140.2,355.8 140.8,355.5C141.5,355.2 142.2,354.9 142.8,354.7C143.5,354.5 144.2,354.3 144.8,354.2C145.5,354.0 146.2,353.9 146.8,353.8C147.5,353.7 148.2,353.6 148.8,353.5C149.5,353.4 150.2,353.3 150.8,353.2C151.5,353.2 152.2,353.1 152.8,353.0C153.5,353.0 154.2,352.9 154.8,352.9C155.5,352.8 156.2,352.7 156.8,352.7C157.5,352.6 158.2,352.5 158.8,352.4C159.5,352.3 160.2,352.2 160.8,352.1C161.5,352.0 162.2,351.9 162.8,351.8C163.5,351.7 164.2,351.6 164.8,351.5C165.5,351.5 166.3,351.5 166.8,351.5C167.4,351.6 167.7,351.9 168.3,351.7C168.9,351.5 169.6,350.9 170.3,350.6C171.0,350.2 171.6,349.8 172.3,349.4C173.0,349.0 173.6,348.7 174.3,348.3C175.0,347.9 175.6,347.5 176.3,347.1C177.0,346.7 177.6,346.3 178.3,345.9C179.0,345.5 179.6,345.1 180.3,344.7C181.0,344.2 181.6,343.8 182.3,343.3C183.0,342.9 183.6,342.4 184.3,341.9C185.0,341.5 185.6,341.0 186.3,340.4C187.0,339.9 187.6,339.4 188.3,338.8C189.0,338.2 189.6,337.7 190.3,337.0C191.0,336.4 191.6,335.8 192.3,335.1C193.0,334.5 193.6,333.8 194.3,333.0C195.0,332.3 195.6,331.6 196.3,330.8C197.0,330.0 197.6,329.2 198.3,328.4C199.0,327.5 199.6,326.7 200.3,325.8C201.0,324.9 201.6,324.0 202.3,323.0C203.0,322.1 203.6,321.1 204.3,320.2C205.0,319.2 205.6,318.2 206.3,317.2C207.0,316.2 207.6,315.1 208.3,314.1C209.0,313.0 209.6,312.0 210.3,310.9C211.0,309.8 211.6,308.7 212.3,307.6C213.0,306.5 213.6,305.4 214.3,304.3C215.0,303.1 215.6,302.0 216.3,300.8C217.0,299.7 217.6,298.5 218.3,297.4C219.0,296.2 219.6,295.0 220.3,293.9C221.0,292.7 221.6,291.6 222.3,290.4C223.0,289.2 223.6,288.1 224.3,286.9C225.0,285.7 225.6,284.6 226.3,283.4C227.0,282.3 227.6,281.1 228.3,280.0C229.0,278.8 229.6,277.6 230.3,276.4C231.0,275.3 231.6,274.1 232.3,272.9C233.0,271.7 233.6,270.5 234.3,269.3C235.0,268.0 235.6,266.8 236.3,265.5C237.0,264.3 237.6,263.0 238.3,261.7C239.0,260.4 239.6,259.1 240.3,257.8C241.0,256.4 241.6,255.1 242.3,253.7C243.0,252.3 243.6,250.8 244.3,249.4C245.0,247.9 245.6,246.4 246.3,244.9C247.0,243.4 247.6,241.8 248.3,240.2C249.0,238.7 249.6,237.0 250.3,235.3C251.0,233.7 251.6,232.0 252.3,230.2C253.0,228.4 253.6,226.6 254.3,224.8C255.0,222.9 255.6,221.1 256.3,219.1C257.0,217.2 257.6,215.3 258.3,213.3C259.0,211.4 259.6,209.4 260.3,207.6C261.0,205.7 261.6,203.9 262.3,202.1C263.0,200.4 263.6,198.7 264.3,197.1C265.0,195.5 265.6,193.9 266.3,192.4C267.0,190.9 267.6,189.5 268.3,188.1C269.0,186.7 269.6,185.3 270.3,184.0C271.0,182.7 271.6,181.4 272.3,180.1C273.0,178.9 273.6,177.7 274.3,176.5C275.0,175.3 275.6,174.2 276.3,173.1C277.0,172.0 277.6,170.9 278.3,169.9C279.0,168.8 279.6,167.8 280.3,166.9C281.0,165.9 281.6,165.0 282.3,164.1C283.0,163.3 283.6,162.4 284.3,161.6C285.0,160.8 285.6,160.1 286.3,159.3C287.0,158.5 287.6,157.8 288.3,157.0C289.0,156.3 289.6,155.6 290.3,154.9C291.0,154.1 291.6,153.4 292.3,152.7C293.0,151.9 293.6,151.2 294.3,150.4C295.0,149.6 295.6,148.9 296.3,148.1C297.0,147.4 297.6,146.6 298.3,145.9C299.0,145.2 299.6,144.4 300.3,143.7C301.0,143.0 301.6,142.4 302.3,141.7C303.0,141.1 303.6,140.4 304.3,139.9C305.0,139.3 305.6,138.7 306.3,138.2C307.0,137.7 307.6,137.2 308.3,136.8C309.0,136.3 309.6,135.9 310.3,135.5C311.0,135.2 311.6,134.8 312.3,134.5C313.0,134.2 313.6,133.9 314.3,133.6C315.0,133.4 315.6,133.1 316.3,132.9C317.0,132.7 317.6,132.5 318.3,132.3C319.0,132.2 319.6,132.0 320.3,131.9C321.0,131.8 321.6,131.7 322.3,131.6C323.0,131.6 323.6,131.5 324.3,131.5C325.0,131.5 325.6,131.5 326.3,131.5C327.0,131.5 327.6,131.5 328.3,131.6C329.0,131.7 329.6,131.8 330.3,131.9C331.0,132.0 331.6,132.1 332.3,132.3C333.0,132.4 333.6,132.6 334.3,132.8C335.0,133.0 335.6,133.2 336.3,133.5C337.0,133.7 337.6,134.0 338.3,134.3C339.0,134.6 339.6,134.9 340.3,135.3C341.0,135.6 341.6,136.0 342.3,136.3C343.0,136.7 343.6,137.1 344.3,137.6C345.0,138.0 345.6,138.4 346.3,138.9C347.0,139.4 347.6,139.9 348.3,140.4C349.0,140.9 349.6,141.5 350.3,142.0C351.0,142.6 351.6,143.2 352.3,143.8C353.0,144.4 353.6,145.0 354.3,145.7C355.0,146.3 355.6,147.0 356.3,147.7C357.0,148.4 357.6,149.1 358.3,149.8C359.0,150.6 359.6,151.3 360.3,152.1C361.0,152.9 361.6,153.7 362.3,154.5C363.0,155.4 363.6,156.2 364.3,157.1C365.0,157.9 365.6,158.8 366.3,159.7C367.0,160.7 367.6,161.6 368.3,162.5C369.0,163.5 369.6,164.5 370.3,165.5C371.0,166.4 371.6,167.5 372.3,168.5C373.0,169.5 373.6,170.5 374.3,171.6C375.0,172.7 375.6,173.7 376.3,174.8C377.0,175.9 377.6,177.0 378.3,178.1C379.0,179.2 379.6,180.4 380.3,181.5C381.0,182.6 381.6,183.8 382.3,185.0C383.0,186.1 383.6,187.3 384.3,188.5C385.0,189.6 385.6,190.8 386.3,192.0C387.0,193.2 387.6,194.4 388.3,195.6C389.0,196.8 389.6,198.1 390.3,199.3C391.0,200.5 391.6,201.7 392.3,202.9C393.0,204.1 393.6,205.4 394.3,206.6C395.0,207.8 395.6,209.0 396.3,210.2C397.0,211.4 397.6,212.6 398.3,213.8C399.0,215.0 399.6,216.2 400.3,217.3C401.0,218.5 401.6,219.6 402.3,220.8C403.0,221.9 403.6,223.0 404.3,224.1C405.0,225.2 405.6,226.3 406.3,227.3C407.0,228.4 407.6,229.4 408.3,230.4C409.0,231.5 409.6,232.5 410.3,233.5C411.0,234.6 411.6,235.6 412.3,236.7C413.0,237.7 413.6,238.7 414.3,239.8C415.0,240.9 415.6,241.9 416.3,243.0C417.0,244.1 417.6,245.2 418.3,246.4C419.0,247.5 419.6,248.7 420.3,249.9C421.0,251.0 421.6,252.2 422.3,253.4C423.0,254.6 423.6,255.8 424.3,257.0C425.0,258.1 425.6,259.3 426.3,260.4C427.0,261.6 427.6,262.7 428.3,263.7C429.0,264.8 429.6,265.8 430.3,266.7C431.0,267.7 431.6,268.5 432.3,269.4C433.0,270.2 433.6,270.9 434.3,271.6C435.0,272.2 435.6,272.8 436.3,273.4C437.0,274.0 437.6,274.5 438.3,275.0C439.0,275.5 439.6,276.0 440.3,276.5C441.0,277.0 441.6,277.5 442.3,278.1C443.0,278.7 443.6,279.3 444.3,280.0C445.0,280.6 445.6,281.4 446.3,282.1C447.0,282.8 447.6,283.6 448.3,284.4C449.0,285.1 449.6,285.9 450.3,286.7C451.0,287.5 451.6,288.3 452.3,289.0C453.0,289.8 453.6,290.5 454.3,291.2C455.0,291.9 455.6,292.6 456.3,293.2C457.0,293.8 457.6,294.4 458.3,295.0C459.0,295.6 459.6,296.1 460.3,296.6C461.0,297.1 461.6,297.6 462.3,298.0C463.0,298.5 463.6,298.9 464.3,299.3C465.0,299.7 465.6,300.1 466.3,300.5C467.0,300.9 467.6,301.2 468.3,301.5C469.0,301.9 469.6,302.2 470.3,302.5C471.0,302.8 471.6,303.1 472.3,303.4C473.0,303.7 473.6,304.0 474.3,304.3C475.0,304.5 475.6,304.8 476.3,305.1C477.0,305.3 477.6,305.6 478.3,305.9C479.0,306.1 479.6,306.4 480.3,306.6C481.0,306.9 481.6,307.1 482.3,307.3C483.0,307.6 483.6,307.8 484.3,308.1C485.0,308.3 485.6,308.5 486.3,308.8C487.0,309.0 487.6,309.2 488.3,309.4C489.0,309.7 489.6,309.9 490.3,310.1C491.0,310.4 491.6,310.6 492.3,310.8C493.0,311.0 493.6,311.3 494.3,311.5C495.0,311.7 495.6,311.9 496.3,312.2C497.0,312.4 497.6,312.6 498.3,312.8C499.0,313.1 499.6,313.3 500.3,313.5C501.0,313.8 501.6,314.0 502.3,314.3C503.0,314.5 503.6,314.7 504.3,315.0C505.0,315.2 505.6,315.5 506.3,315.7C507.0,316.0 507.6,316.2 508.3,316.5C509.0,316.7 509.6,317.0 510.3,317.2C511.0,317.5 511.6,317.7 512.3,318.0C513.0,318.2 513.6,318.5 514.3,318.7C515.0,319.0 515.6,319.2 516.3,319.5C517.0,319.7 517.6,319.9 518.3,320.1C519.0,320.4 519.8,320.7 520.3,320.8C520.8,321.0 521.1,321.1 521.2,321.1" stroke="#0000ff"/>
<path d="M52.85,399.5H87" stroke="#009900" stroke-width="1.6"/>
<path d="M98.6,399.7C98.9,399.5 99.9,399.2 100.6,398.8C101.3,398.3 101.9,397.8 102.6,397.2C103.3,396.6 103.9,395.9 104.6,395.1C105.3,394.4 105.9,393.5 106.6,392.7C107.3,391.8 107.9,390.9 108.6,390.0C109.3,389.1 109.9,388.2 110.6,387.3C111.3,386.3 111.9,385.4 112.6,384.6C113.3,383.7 113.9,382.9 114.6,382.1C115.3,381.3 115.9,380.5 116.6,379.8C117.3,379.1 117.9,378.5 118.6,377.8C119.3,377.2 119.9,376.6 120.6,376.0C121.3,375.4 121.9,374.9 122.6,374.4C123.3,373.8 123.9,373.3 124.6,372.8C125.3,372.4 125.9,371.9 126.6,371.4C127.3,371.0 127.9,370.5 128.6,370.1C129.3,369.6 129.9,369.2 130.6,368.7C131.3,368.3 131.9,367.8 132.6,367.4C133.3,366.9 133.9,366.5 134.6,366.0C135.3,365.6 135.9,365.1 136.6,364.6C137.3,364.2 137.9,363.7 138.6,363.2C139.3,362.8 139.9,362.3 140.6,361.8C141.3,361.3 141.9,360.9 142.6,360.4C143.3,359.9 143.9,359.4 144.6,358.9C145.3,358.5 145.9,358.0 146.6,357.5C147.3,357.0 147.9,356.5 148.6,356.0C149.3,355.5 149.9,355.0 150.6,354.5C151.3,354.0 151.9,353.5 152.6,353.1C153.3,352.6 153.9,352.1 154.6,351.6C155.3,351.1 155.9,350.6 156.6,350.1C157.3,349.6 157.9,349.1 158.6,348.6C159.3,348.1 159.9,347.6 160.6,347.1C161.3,346.6 161.9,346.1 162.6,345.7C163.3,345.2 163.9,344.7 164.6,344.2C165.3,343.7 165.9,343.2 166.6,342.7C167.3,342.3 167.9,341.8 168.6,341.3C169.3,340.8 169.9,340.3 170.6,339.9C171.3,339.4 171.9,338.9 172.6,338.4C173.3,337.9 173.9,337.4 174.6,336.8C175.3,336.3 175.9,335.7 176.6,335.1C177.3,334.5 177.9,333.8 178.6,333.2C179.3,332.5 179.9,331.8 180.6,331.0C181.3,330.3 181.9,329.5 182.6,328.7C183.3,327.9 183.9,327.1 184.6,326.2C185.3,325.3 185.9,324.4 186.6,323.5C187.3,322.5 187.9,321.6 188.6,320.6C189.3,319.6 189.9,318.5 190.6,317.5C191.3,316.4 191.9,315.3 192.6,314.2C193.3,313.1 193.9,312.0 194.6,310.8C195.3,309.6 195.9,308.4 196.6,307.2C197.3,306.0 197.9,304.8 198.6,303.5C199.3,302.2 199.9,300.9 200.6,299.6C201.3,298.3 201.9,296.9 202.6,295.6C203.3,294.2 203.9,292.8 204.6,291.4C205.3,290.0 205.9,288.6 206.6,287.1C207.3,285.7 207.9,284.2 208.6,282.7C209.3,281.2 209.9,279.7 210.6,278.2C211.3,276.7 211.9,275.1 212.6,273.6C213.3,272.0 213.9,270.4 214.6,268.9C215.3,267.3 215.9,265.7 216.6,264.0C217.3,262.4 217.9,260.8 218.6,259.1C219.3,257.5 219.9,255.8 220.6,254.2C221.3,252.5 221.9,250.9 222.6,249.2C223.3,247.5 223.9,245.8 224.6,244.1C225.3,242.5 225.9,240.8 226.6,239.1C227.3,237.4 227.9,235.7 228.6,234.0C229.3,232.3 229.9,230.7 230.6,229.0C231.3,227.3 231.9,225.6 232.6,223.9C233.3,222.2 233.9,220.5 234.6,218.7C235.3,217.0 235.9,215.2 236.6,213.4C237.3,211.6 237.9,209.8 238.6,207.9C239.3,206.1 239.9,204.3 240.6,202.2C241.3,200.2 242.1,197.6 242.8,195.6C243.5,193.6 244.1,191.9 244.8,190.2C245.5,188.4 246.1,186.7 246.8,185.0C247.5,183.3 248.1,181.7 248.8,180.1C249.5,178.5 250.1,176.9 250.8,175.4C251.5,173.9 252.1,172.4 252.8,170.9C253.5,169.5 254.1,168.0 254.8,166.6C255.5,165.2 256.1,163.8 256.8,162.5C257.5,161.1 258.1,159.8 258.8,158.4C259.5,157.1 260.1,155.8 260.8,154.5C261.5,153.2 262.1,151.9 262.8,150.7C263.5,149.4 264.1,148.1 264.8,146.9C265.5,145.6 266.1,144.4 266.8,143.2C267.5,142.0 268.1,140.7 268.8,139.6C269.5,138.4 270.1,137.2 270.8,136.0C271.5,134.8 272.1,133.7 272.8,132.6C273.5,131.4 274.1,130.3 274.8,129.3C275.5,128.2 276.1,127.1 276.8,126.1C277.5,125.1 278.1,124.1 278.8,123.2C279.5,122.2 280.1,121.3 280.8,120.4C281.5,119.5 282.1,118.7 282.8,117.9C283.5,117.1 284.1,116.3 284.8,115.5C285.5,114.8 286.1,114.1 286.8,113.3C287.5,112.6 288.1,112.0 288.8,111.3C289.5,110.6 290.1,110.0 290.8,109.4C291.5,108.8 292.1,108.1 292.8,107.5C293.5,106.9 294.1,106.4 294.8,105.8C295.5,105.2 296.1,104.6 296.8,104.0C297.5,103.5 298.1,102.9 298.8,102.4C299.5,101.8 300.1,101.3 300.8,100.8C301.5,100.3 302.1,99.8 302.8,99.3C303.5,98.8 304.1,98.4 304.8,98.0C305.5,97.5 306.1,97.1 306.8,96.8C307.5,96.4 308.1,96.1 308.8,95.8C309.5,95.5 310.1,95.2 310.8,94.9C311.5,94.7 312.1,94.5 312.8,94.3C313.5,94.1 314.1,93.9 314.8,93.8C315.5,93.7 316.1,93.5 316.8,93.4C317.5,93.3 318.1,93.3 318.8,93.2C319.5,93.1 320.1,93.1 320.8,93.0C321.5,93.0 322.1,93.0 322.8,92.9C323.5,92.9 324.1,92.9 324.8,92.9C325.5,92.9 326.1,92.9 326.8,92.9C327.5,92.9 328.2,92.9 328.8,92.9C329.4,92.9 329.6,92.7 330.2,92.9C330.8,93.1 331.5,93.5 332.2,93.9C332.9,94.2 333.5,94.5 334.2,94.8C334.9,95.1 335.5,95.4 336.2,95.7C336.9,96.1 337.5,96.4 338.2,96.7C338.9,97.0 339.5,97.4 340.2,97.7C340.9,98.1 341.5,98.4 342.2,98.8C342.9,99.2 343.5,99.5 344.2,99.9C344.9,100.3 345.5,100.7 346.2,101.2C346.9,101.6 347.5,102.1 348.2,102.6C348.9,103.0 349.5,103.5 350.2,104.1C350.9,104.6 351.5,105.1 352.2,105.7C352.9,106.3 353.5,106.9 354.2,107.6C354.9,108.2 355.5,108.9 356.2,109.6C356.9,110.3 357.5,111.0 358.2,111.8C358.9,112.6 359.5,113.4 360.2,114.2C360.9,115.1 361.5,115.9 362.2,116.8C362.9,117.7 363.5,118.6 364.2,119.6C364.9,120.5 365.5,121.5 366.2,122.5C366.9,123.5 367.5,124.6 368.2,125.6C368.9,126.7 369.5,127.8 370.2,128.9C370.9,130.0 371.5,131.1 372.2,132.3C372.9,133.4 373.5,134.6 374.2,135.8C374.9,137.0 375.5,138.2 376.2,139.4C376.9,140.7 377.5,141.9 378.2,143.2C378.9,144.5 379.5,145.7 380.2,147.0C380.9,148.3 381.5,149.6 382.2,150.9C382.9,152.1 383.5,153.4 384.2,154.7C384.9,155.9 385.5,157.2 386.2,158.5C386.9,159.7 387.5,160.9 388.2,162.1C388.9,163.3 389.5,164.5 390.2,165.7C390.9,166.9 391.5,168.0 392.2,169.1C392.9,170.3 393.5,171.4 394.2,172.6C394.9,173.7 395.5,174.9 396.2,176.1C396.9,177.3 397.5,178.5 398.2,179.7C398.9,181.0 399.5,182.3 400.2,183.6C400.9,184.9 401.5,186.3 402.2,187.8C402.9,189.2 403.5,190.8 404.2,192.4C404.9,193.9 405.5,195.6 406.2,197.2C406.9,198.8 407.5,200.5 408.2,202.1C408.9,203.7 409.5,205.3 410.2,206.9C410.9,208.4 411.5,209.9 412.2,211.3C412.9,212.7 413.5,213.9 414.2,215.2C414.9,216.4 415.5,217.6 416.2,218.7C416.9,219.8 417.5,220.8 418.2,221.8C418.9,222.8 419.5,223.8 420.2,224.7C420.9,225.6 421.5,226.5 422.2,227.4C422.9,228.3 423.5,229.2 424.2,230.0C424.9,230.9 425.5,231.8 426.2,232.7C426.9,233.6 427.5,234.4 428.2,235.4C428.9,236.3 429.5,237.2 430.2,238.2C430.9,239.1 431.5,240.1 432.2,241.1C432.9,242.2 433.5,243.2 434.2,244.3C434.9,245.4 435.5,246.6 436.2,247.8C436.9,249.0 437.5,250.2 438.2,251.5C438.9,252.8 439.5,254.2 440.2,255.5C440.9,256.8 441.5,258.2 442.2,259.4C442.9,260.6 443.5,261.6 444.2,262.6C444.9,263.6 445.5,264.5 446.2,265.3C446.9,266.2 447.5,267.0 448.2,267.8C448.9,268.7 449.5,269.4 450.2,270.2C450.9,271.0 451.5,271.7 452.2,272.5C452.9,273.2 453.5,273.9 454.2,274.6C454.9,275.3 455.5,275.9 456.2,276.6C456.9,277.2 457.5,277.9 458.2,278.5C458.9,279.1 459.5,279.7 460.2,280.3C460.9,280.9 461.5,281.5 462.2,282.0C462.9,282.6 463.5,283.2 464.2,283.7C464.9,284.3 465.5,284.8 466.2,285.3C466.9,285.8 467.5,286.3 468.2,286.9C468.9,287.4 469.5,287.9 470.2,288.4C470.9,288.8 471.5,289.3 472.2,289.8C472.9,290.3 473.5,290.8 474.2,291.3C474.9,291.7 475.5,292.2 476.2,292.7C476.9,293.2 477.5,293.6 478.2,294.1C478.9,294.6 479.5,295.0 480.2,295.5C480.9,295.9 481.5,296.4 482.2,296.8C482.9,297.3 483.5,297.7 484.2,298.2C484.9,298.6 485.5,299.0 486.2,299.5C486.9,299.9 487.5,300.3 488.2,300.7C488.9,301.1 489.5,301.5 490.2,301.9C490.9,302.3 491.5,302.7 492.2,303.1C492.9,303.5 493.5,303.9 494.2,304.2C494.9,304.6 495.5,304.9 496.2,305.3C496.9,305.6 497.5,306.0 498.2,306.3C498.9,306.6 499.5,307.0 500.2,307.3C500.9,307.6 501.5,307.9 502.2,308.2C502.9,308.5 503.5,308.7 504.2,309.0C504.9,309.3 505.5,309.5 506.2,309.8C506.9,310.0 507.5,310.3 508.2,310.5C508.9,310.8 509.5,311.0 510.2,311.2C510.9,311.5 511.5,311.7 512.2,311.9C512.9,312.2 513.5,312.4 514.2,312.6C514.9,312.9 515.5,313.1 516.2,313.4C516.9,313.6 517.5,313.9 518.2,314.2C518.9,314.5 519.7,314.8 520.2,315.0C520.7,315.3 521.0,315.4 521.2,315.5" stroke="#009900"/>
</g>
<g fill="none" stroke-width="2.2">
<path d="M88.9,54.6H134.2" stroke="#000" stroke-dasharray="9.1 8.9"/>
<path d="M88.9,81.0H138.2" stroke="#ff0000"/>
<path d="M88.9,107.2H138.2" stroke="#ff8000"/>
<path d="M88.9,133.4H138.2" stroke="#0000ff"/>
<path d="M88.9,159.6H138.2" stroke="#009900"/>
</g>
<g font-family="'Liberation Sans', Arial, sans-serif" fill="#000" stroke="#000" stroke-width="0.25">
<text transform="translate(143.00,62.00) scale(1,1.020)" font-size="21.4px">Exp.</text>
<text transform="translate(143.00,88.40) scale(1,1.020)" font-size="21.4px">CG-3</text>
<text transform="translate(143.00,114.60) scale(1,1.020)" font-size="21.4px">CG-6</text>
<text transform="translate(143.00,140.80) scale(1,1.020)" font-size="21.4px">CG-12</text>
<text transform="translate(143.00,167.00) scale(1,1.020)" font-size="21.4px">CG-24</text>
<text transform="translate(52.80,421.60) scale(1,1.000)" font-size="17.4px" text-anchor="middle">0</text>
<text transform="translate(130.87,421.60) scale(1,1.000)" font-size="17.4px" text-anchor="middle">5</text>
<text transform="translate(208.93,421.60) scale(1,1.000)" font-size="17.4px" text-anchor="middle">10</text>
<text transform="translate(287.00,421.60) scale(1,1.000)" font-size="17.4px" text-anchor="middle">15</text>
<text transform="translate(365.07,421.60) scale(1,1.000)" font-size="17.4px" text-anchor="middle">20</text>
<text transform="translate(443.13,421.60) scale(1,1.000)" font-size="17.4px" text-anchor="middle">25</text>
<text transform="translate(521.20,421.60) scale(1,1.000)" font-size="17.4px" text-anchor="middle">30</text>
<text transform="translate(44.60,404.85) scale(1,1.000)" font-size="17.4px" text-anchor="end">0</text>
<text transform="translate(44.60,357.67) scale(1,1.000)" font-size="17.4px" text-anchor="end">1</text>
<text transform="translate(44.60,310.49) scale(1,1.000)" font-size="17.4px" text-anchor="end">2</text>
<text transform="translate(44.60,263.31) scale(1,1.000)" font-size="17.4px" text-anchor="end">3</text>
<text transform="translate(44.60,216.13) scale(1,1.000)" font-size="17.4px" text-anchor="end">4</text>
<text transform="translate(44.60,168.94) scale(1,1.000)" font-size="17.4px" text-anchor="end">5</text>
<text transform="translate(44.60,121.76) scale(1,1.000)" font-size="17.4px" text-anchor="end">6</text>
<text transform="translate(44.60,74.58) scale(1,1.000)" font-size="17.4px" text-anchor="end">7</text>
<text transform="translate(44.60,27.40) scale(1,1.000)" font-size="17.4px" text-anchor="end">8</text>
<text transform="translate(254.00,453.90) scale(1,1.020)" font-size="21.4px"><tspan font-style="italic">R</tspan> (cm)</text>
<text transform="translate(25.7,264.6) rotate(-90)" font-family="'Liberation Serif', 'Times New Roman', serif" font-size="21px" stroke="none">Height</text>
<text transform="translate(25.7,201.2) rotate(-90) scale(1,1.02)" font-size="22px">(cm)</text>
</g>
</svg>
</body></html>
